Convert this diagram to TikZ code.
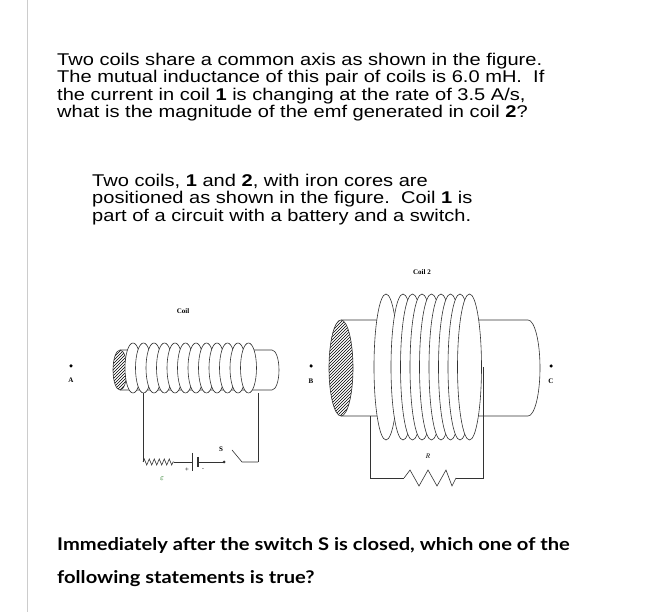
\documentclass[tikz,border=0pt]{standalone}
\usepackage{fontspec}
\setmainfont{Liberation Sans}[FakeStretch=1.18]
\newfontfamily\latofont{Lato}[FakeStretch=1.15]
\newfontfamily\serifont{Liberation Serif}
\usetikzlibrary{patterns,decorations.pathmorphing}
\begin{document}
\begin{tikzpicture}[x=1pt,y=-1pt,
  txt/.style={anchor=north west,inner sep=0pt,align=left,font=\fontsize{17}{17.4}\selectfont},
  lbl/.style={font=\serifont\bfseries\fontsize{7}{8}\selectfont,inner sep=0pt},
  wire/.style={line width=0.6pt,black!80},
  dotn/.style={circle,fill=black,inner sep=0pt,minimum size=3.5pt}]
\useasboundingbox (0,0) rectangle (657,612);
\fill[white] (0,0) rectangle (657,612);
\draw[black!20] (27,0) -- (27,612);
\node[txt] (t1) at (57,53) {Two coils share a common axis as shown in the figure.\\The mutual inductance of this pair of coils is 6.0 mH.\ \ If\\the current in coil \textbf{1} is changing at the rate of 3.5 A/s,\\what is the magnitude of the emf generated in coil \textbf{2}?};
\node[txt] (t2) at (92,174) {Two coils, \textbf{1} and \textbf{2}, with iron cores are\\positioned as shown in the figure.\ \ Coil \textbf{1} is\\part of a circuit with a battery and a switch.};
\node[anchor=north west,inner sep=0pt,align=left,font=\latofont\bfseries\fontsize{17.5}{33}\selectfont] (t3) at (57,537) {Immediately after the switch S is closed, which one of the\\following statements is true?};
% points
\node[dotn] (A) at (71,366) {}; \node[lbl] at (71,380) {A};
\node[dotn] (B) at (311,366) {}; \node[lbl] at (311,381) {B};
\node[dotn] (C) at (551,366) {}; \node[lbl] at (551,381) {C};
\node[lbl] (c1) at (183,311) {Coil};
\node[lbl] (c2) at (422,272) {Coil 2};
% coil 1 core
\begin{scope}[wire]
\draw (120,350) -- (272,350) arc[start angle=-90,end angle=90,x radius=7,y radius=20] -- (120,390);
\draw[pattern=north east lines] (120,370) ellipse[x radius=7,y radius=20];
\foreach \i in {0,...,11} {\draw[fill=white] (133+\i*10.5,368) ellipse[x radius=8,y radius=25];}
\draw (143,393) -- (143,462) coordinate (bl);
\draw (258,393) -- (258,462) coordinate (br);
\draw[decorate,decoration={zigzag,segment length=5,amplitude=3}] (bl) -- (174,462);
\draw (174,462) -- (192,462);
\draw (192,453) -- (192,471); \draw[line width=1.2pt] (198,457) -- (198,467);
\draw (198,462) -- (224,462);
\fill (224,462) circle (1.5);
\draw (232,450) -- (242,462) -- (br);
\node[font=\fontsize{6}{6}\selectfont] at (187,470) {+};
\node[font=\fontsize{6}{6}\selectfont] at (203,470) {-};
\end{scope}
\node[lbl] (S) at (221,449) {S};
\node[lbl,font=\serifont\itshape\fontsize{8}{8}\selectfont,green!40!black] (eps) at (162,479) {$\varepsilon$};
% coil 2 core
\begin{scope}[wire]
\draw (341,320) -- (528,320) arc[start angle=-90,end angle=90,x radius=12,y radius=48] -- (341,416);
\draw[pattern=north east lines] (341,368) ellipse[x radius=12,y radius=48];
\draw[fill=white] (386,367) ellipse[x radius=12,y radius=73];
\foreach \i in {0,...,7} {\draw[fill=white] (403+\i*9.5,367) ellipse[x radius=12,y radius=73];}
\draw (370,416) -- (370,478) -- (404,478);
\draw (483,367) -- (483,478) -- (456,478);
\draw (404,478) -- (410,470) -- (419,486) -- (428,470) -- (437,486) -- (446,470) -- (452,486) -- (456,478);
\end{scope}
\node[lbl,font=\serifont\itshape\fontsize{7}{8}\selectfont] (R) at (428,456) {R};
\end{tikzpicture}
\end{document}
